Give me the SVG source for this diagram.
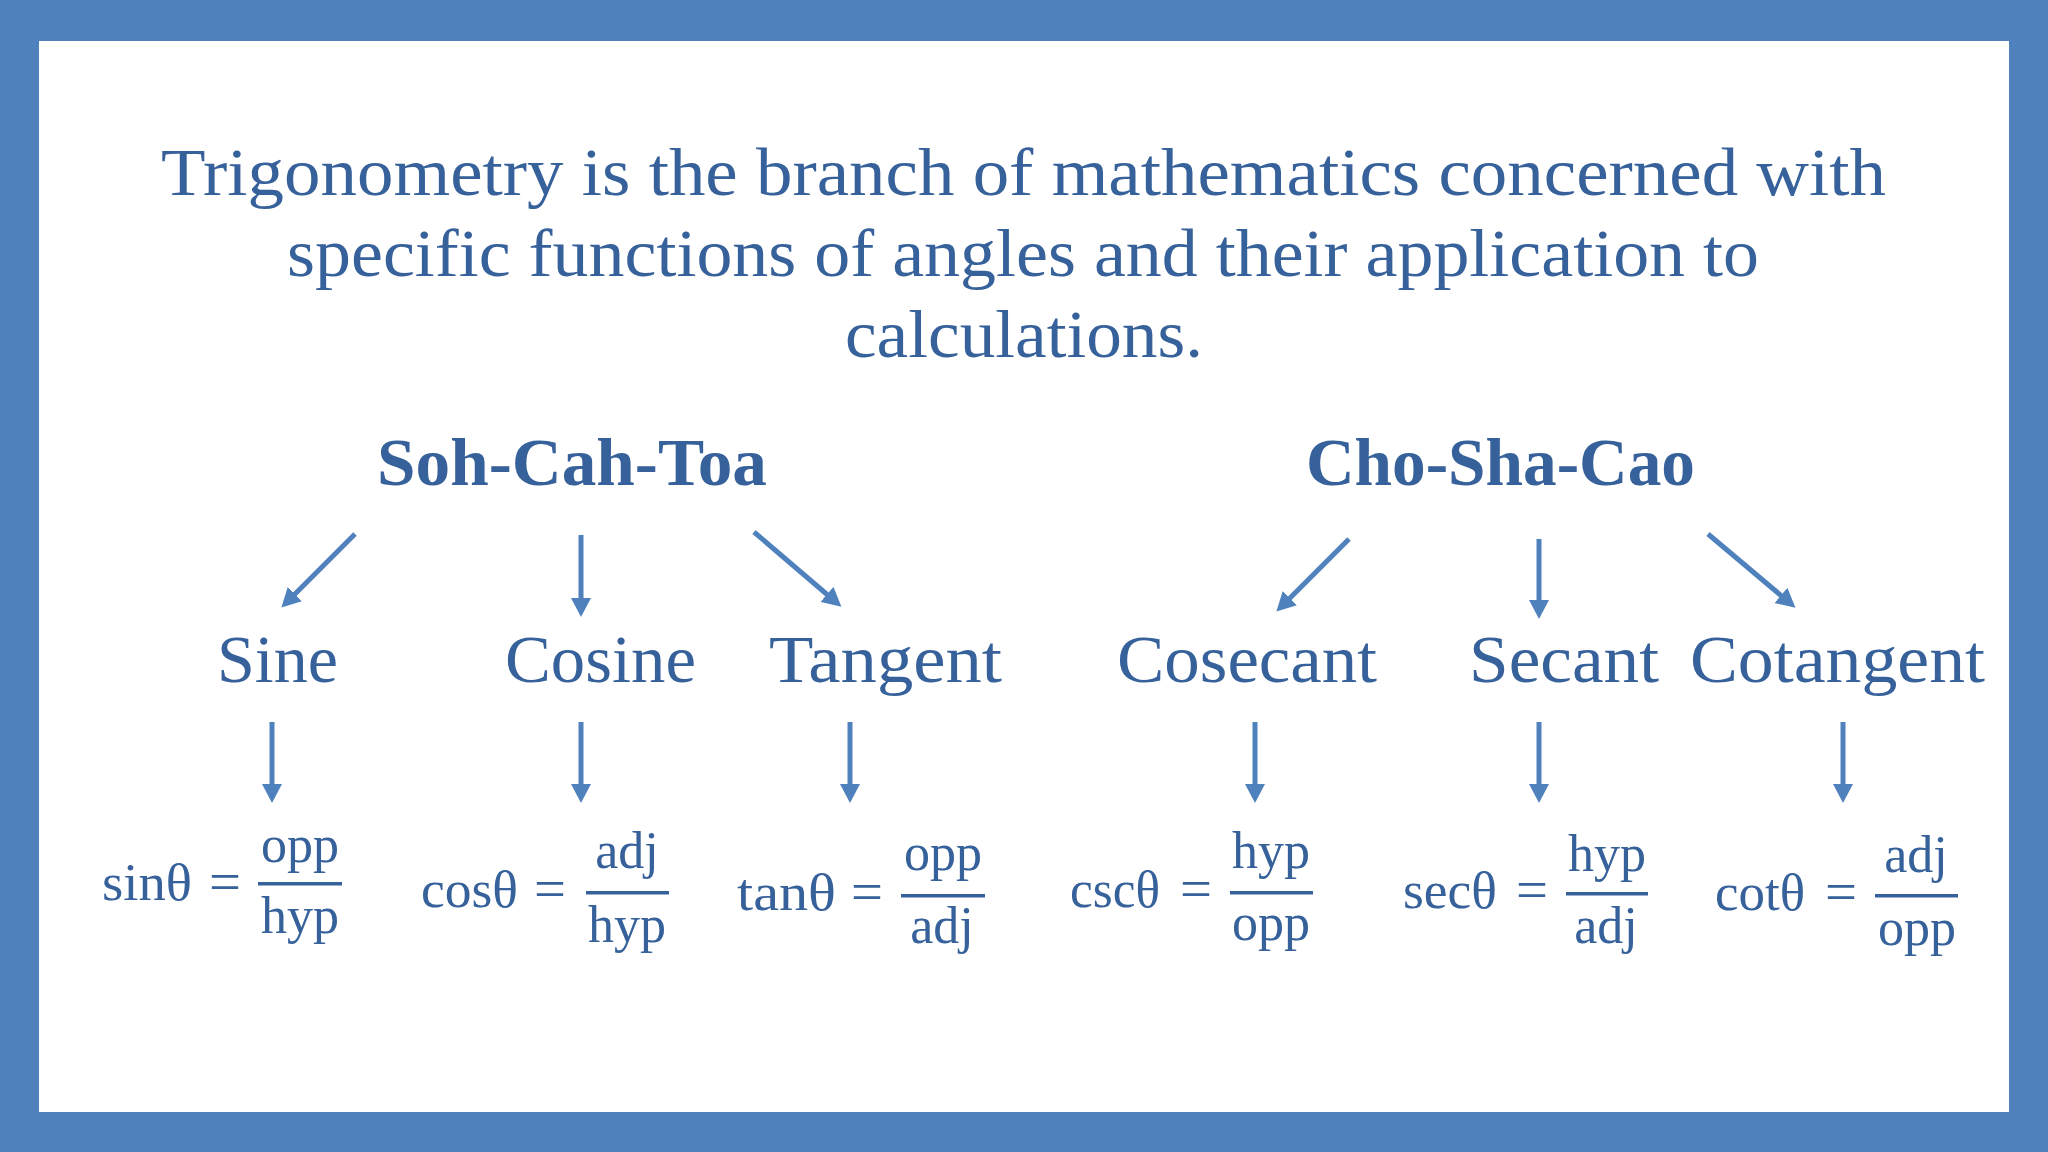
<svg xmlns="http://www.w3.org/2000/svg" width="2048" height="1152" viewBox="0 0 2048 1152">
<style>
text{font-family:"Liberation Serif","DejaVu Serif",serif;fill:#36619A}
.title{font-size:68px}
.head{font-size:68px;font-weight:bold}
.lbl{font-size:68px}
.f{font-size:52px}
.eq{font-size:56px}
.c{text-anchor:middle}
.bar{fill:#36619A}
.arr{stroke:#4F81BD;stroke-width:5;fill:none;marker-end:url(#ah)}
</style>
<defs>
<marker id="ah" markerUnits="userSpaceOnUse" viewBox="0 0 19 20" markerWidth="19" markerHeight="20" refX="4" refY="10" orient="auto">
<path d="M0,0 L19,10 L0,20 z" fill="#4F81BD"/>
</marker>
</defs>
<rect x="0" y="0" width="2048" height="1152" fill="#4F81BD"/>
<rect x="39" y="41" width="1970" height="1071" fill="#FFFFFF"/>

<g id="title">
<text class="title" x="161" y="195" textLength="1725" lengthAdjust="spacingAndGlyphs">Trigonometry is the branch of mathematics concerned with</text>
<text class="title" x="287" y="276" textLength="1472" lengthAdjust="spacingAndGlyphs">specific functions of angles and their application to</text>
<text class="title" x="845" y="357" textLength="358" lengthAdjust="spacingAndGlyphs">calculations.</text>
</g>

<g id="soh-cah-toa"><text class="head" x="377" y="485" textLength="390" lengthAdjust="spacingAndGlyphs">Soh-Cah-Toa</text></g>
<g id="cho-sha-cao"><text class="head" x="1306" y="485" textLength="389" lengthAdjust="spacingAndGlyphs">Cho-Sha-Cao</text></g>

<g id="sine"><text class="lbl" x="217" y="682" textLength="121" lengthAdjust="spacingAndGlyphs">Sine</text></g>
<g id="cosine"><text class="lbl" x="505" y="682" textLength="191" lengthAdjust="spacingAndGlyphs">Cosine</text></g>
<g id="tangent"><text class="lbl" x="769" y="682" textLength="233" lengthAdjust="spacingAndGlyphs">Tangent</text></g>
<g id="cosecant"><text class="lbl" x="1117" y="682" textLength="260" lengthAdjust="spacingAndGlyphs">Cosecant</text></g>
<g id="secant"><text class="lbl" x="1469" y="682" textLength="190" lengthAdjust="spacingAndGlyphs">Secant</text></g>
<g id="cotangent"><text class="lbl" x="1690" y="682" textLength="295" lengthAdjust="spacingAndGlyphs">Cotangent</text></g>

<g id="sin-formula">
<text class="f" x="102" y="900" textLength="90" lengthAdjust="spacingAndGlyphs">sinθ</text>
<text class="eq" x="209" y="901" textLength="32" lengthAdjust="spacingAndGlyphs">=</text>
<text class="f c" x="300" y="862">opp</text>
<rect class="bar" x="258" y="882" width="84" height="3.5"/>
<text class="f c" x="300" y="933">hyp</text>
</g>
<g id="cos-formula">
<text class="f" x="421" y="907" textLength="97" lengthAdjust="spacingAndGlyphs">cosθ</text>
<text class="eq" x="534" y="908" textLength="32" lengthAdjust="spacingAndGlyphs">=</text>
<text class="f c" x="627" y="868">adj</text>
<rect class="bar" x="586" y="891" width="83" height="3.5"/>
<text class="f c" x="627" y="942">hyp</text>
</g>
<g id="tan-formula">
<text class="f" x="737" y="910" textLength="99" lengthAdjust="spacingAndGlyphs">tanθ</text>
<text class="eq" x="851" y="911" textLength="32" lengthAdjust="spacingAndGlyphs">=</text>
<text class="f c" x="943" y="870">opp</text>
<rect class="bar" x="901" y="894" width="84" height="3.5"/>
<text class="f c" x="942" y="943">adj</text>
</g>
<g id="csc-formula">
<text class="f" x="1070" y="907" textLength="90" lengthAdjust="spacingAndGlyphs">cscθ</text>
<text class="eq" x="1180" y="908" textLength="32" lengthAdjust="spacingAndGlyphs">=</text>
<text class="f c" x="1271" y="868">hyp</text>
<rect class="bar" x="1230" y="891" width="83" height="3.5"/>
<text class="f c" x="1271" y="940">opp</text>
</g>
<g id="sec-formula">
<text class="f" x="1403" y="908" textLength="94" lengthAdjust="spacingAndGlyphs">secθ</text>
<text class="eq" x="1516" y="909" textLength="32" lengthAdjust="spacingAndGlyphs">=</text>
<text class="f c" x="1607" y="871">hyp</text>
<rect class="bar" x="1566" y="892" width="82" height="3.5"/>
<text class="f c" x="1606" y="943">adj</text>
</g>
<g id="cot-formula">
<text class="f" x="1715" y="910" textLength="90" lengthAdjust="spacingAndGlyphs">cotθ</text>
<text class="eq" x="1825" y="911" textLength="32" lengthAdjust="spacingAndGlyphs">=</text>
<text class="f c" x="1916" y="872">adj</text>
<rect class="bar" x="1875" y="894" width="83" height="3.5"/>
<text class="f c" x="1917" y="945">opp</text>
</g>

<g id="connectors">
<line class="arr" x1="355" y1="534" x2="292" y2="597"/>
<line class="arr" x1="581" y1="535" x2="581" y2="602"/>
<line class="arr" x1="754" y1="532" x2="830" y2="597"/>
<line class="arr" x1="1349" y1="539" x2="1287" y2="601"/>
<line class="arr" x1="1539" y1="539" x2="1539" y2="604"/>
<line class="arr" x1="1708" y1="534" x2="1784" y2="598"/>
<line class="arr" x1="272" y1="722" x2="272" y2="788"/>
<line class="arr" x1="581" y1="722" x2="581" y2="788"/>
<line class="arr" x1="850" y1="722" x2="850" y2="788"/>
<line class="arr" x1="1255" y1="722" x2="1255" y2="788"/>
<line class="arr" x1="1539" y1="722" x2="1539" y2="788"/>
<line class="arr" x1="1843" y1="722" x2="1843" y2="788"/>
</g>
</svg>
